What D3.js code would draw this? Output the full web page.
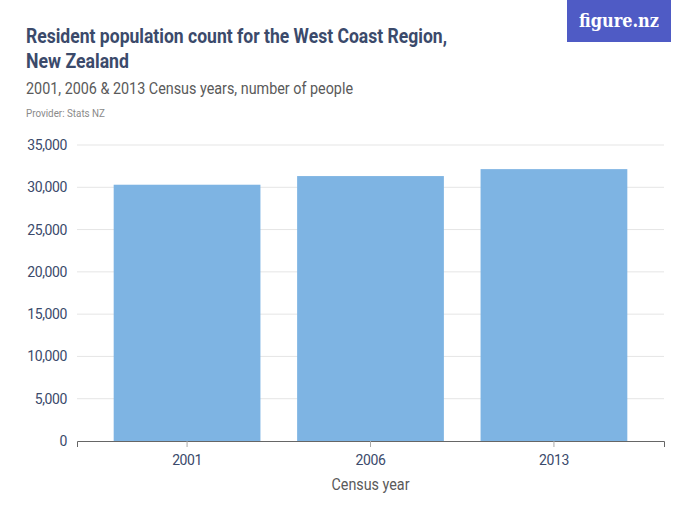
<!DOCTYPE html>
<html>
<head>
<meta charset="utf-8">
<script src="https://cdn.jsdelivr.net/npm/d3@7"></script>
<style>
  body { margin: 0; background: #fff; }
  svg { display: block; font-family: "Roboto", sans-serif; }
</style>
</head>
<body>
<div id="chart"></div>
<script>
// census years and resident population
const years = ["2001", "2006", "2013"];
const population = [30303, 31326, 32148];
const yTicks = [0, 5000, 10000, 15000, 20000, 25000, 30000, 35000];

const outerWidth = 700, outerHeight = 525;
const margin = {top: 145, right: 36, bottom: 84, left: 77};
const width = outerWidth - margin.left - margin.right;
const height = outerHeight - margin.top - margin.bottom;

const svg = d3.select("#chart").append("svg")
    .attr("width", outerWidth)
    .attr("height", outerHeight);

// header, squeezed to mimic the narrow face of the original
const titleColor = "#3b4a6b";
function headerText(x, y, size, color, weight, len, s) {
  return svg.append("text").attr("x", x).attr("y", y)
      .attr("fill", color).attr("font-size", size).attr("font-weight", weight)
      .attr("textLength", len).attr("lengthAdjust", "spacingAndGlyphs")
      .text(s);
}
headerText(26, 43, 20, titleColor, "bold", 421, "Resident population count for the West Coast Region,");
headerText(26, 68, 20, titleColor, "bold", 103, "New Zealand");
headerText(26, 94, 17, "#5a5a5a", "normal", 327, "2001, 2006 & 2013 Census years, number of people");
headerText(26, 117, 10.5, "#8a8a8a", "normal", 79, "Provider: Stats NZ");

// logo
const logo = svg.append("g").attr("transform", "translate(567,0)");
logo.append("rect").attr("width", 104).attr("height", 42).attr("fill", "#4f5bc5");
logo.append("text").attr("x", 52).attr("y", 27)
    .attr("text-anchor", "middle").attr("fill", "#fff")
    .attr("font-family", "DejaVu Serif, serif").attr("font-size", 19).attr("font-weight", "bold")
    .attr("textLength", 80).attr("lengthAdjust", "spacingAndGlyphs")
    .text("figure.nz");

const g = svg.append("g")
    .attr("transform", "translate(" + margin.left + "," + margin.top + ")");

const xScale = d3.scaleBand().domain(years).range([0, width])
    .paddingInner(0.2).paddingOuter(0.2);
const yScale = d3.scaleLinear().domain([0, 35000]).range([height, 0]);

// gridlines
g.append("g").selectAll("line").data(yTicks.filter(d => d > 0)).join("line")
    .attr("x1", 0).attr("x2", width)
    .attr("y1", d => yScale(d)).attr("y2", d => yScale(d))
    .attr("stroke", "#e5e5e5").attr("stroke-width", 1);

// bars
g.append("g").selectAll("rect").data(population).join("rect")
    .attr("x", (d, i) => xScale(years[i]))
    .attr("y", d => yScale(d))
    .attr("width", xScale.bandwidth())
    .attr("height", d => height - yScale(d))
    .attr("fill", "#7eb4e3");

// y axis
const yAxis = d3.axisLeft(yScale).tickValues(yTicks).tickSize(0).tickPadding(10)
    .tickFormat(d3.format(","));
const yG = g.append("g").call(yAxis);
yG.select(".domain").remove();
yG.selectAll("text").attr("fill", titleColor).attr("font-size", 14)
    .attr("font-family", "Roboto, sans-serif").attr("letter-spacing", "-0.4");

// x axis
const xAxis = d3.axisBottom(xScale).tickSize(6).tickPadding(8);
const xG = g.append("g").attr("transform", "translate(0," + height + ")").call(xAxis);
xG.select(".domain").attr("stroke", "#666");
xG.selectAll(".tick line").attr("stroke", "#aaa");
xG.selectAll("text").attr("fill", titleColor).attr("font-size", 14)
    .attr("font-family", "Roboto, sans-serif").attr("letter-spacing", "-0.4");

svg.append("text")
    .attr("x", margin.left + width / 2).attr("y", 490)
    .attr("text-anchor", "middle").attr("fill", "#5a5a5a").attr("font-size", 16)
    .attr("textLength", 78).attr("lengthAdjust", "spacingAndGlyphs")
    .text("Census year");
</script>
</body>
</html>
